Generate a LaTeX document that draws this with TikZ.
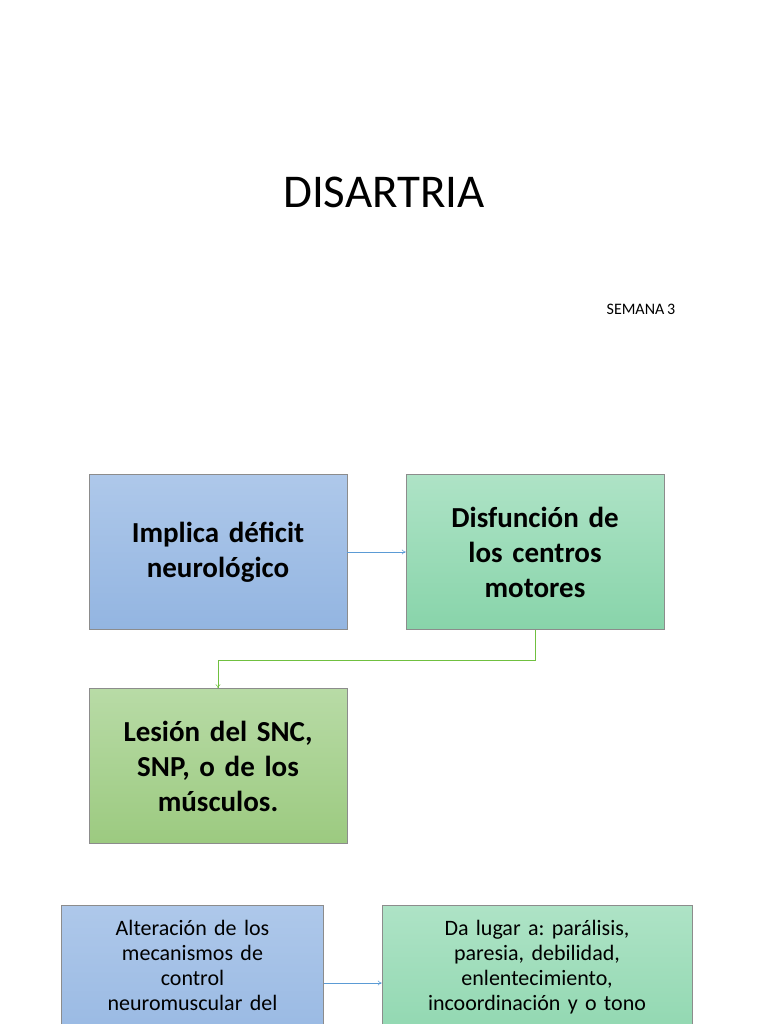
\documentclass[tikz,border=0pt]{standalone}
\usepackage{fontspec}
\setmainfont{Carlito}[WordSpace={0.8,0,0}]
\frenchspacing
\usetikzlibrary{arrows.meta,positioning}
\definecolor{bluetop}{HTML}{AEC8EA}
\definecolor{bluebot}{HTML}{93B5E1}
\definecolor{tealtop}{HTML}{AEE3C6}
\definecolor{tealbot}{HTML}{88D4AA}
\definecolor{greentop}{HTML}{B8DBA6}
\definecolor{greenbot}{HTML}{9CCA80}
\definecolor{linkblue}{HTML}{5B9BD5}
\definecolor{linkgreen}{HTML}{70C040}
\tikzset{
    box/.style = {draw=black!45, rectangle, line width=0.5pt,
        minimum height=155pt, minimum width=258pt,
        align=center, text width=250pt},
    bluebox/.style = {box, top color=bluetop, bottom color=bluebot},
    tealbox/.style = {box, top color=tealtop, bottom color=tealbot},
    greenbox/.style = {box, top color=greentop, bottom color=greenbot},
    big/.style = {font=\fontsize{29}{35}\selectfont\bfseries},
    small/.style = {font=\fontsize{22}{25}\selectfont},
    link/.style = {draw=linkblue, line width=0.5pt, -{To[length=4pt,width=5pt]}}
}
\begin{document}
\begin{tikzpicture}[x=1pt,y=-1pt]
\useasboundingbox (0,0) rectangle (768,1024);
\clip (0,0) rectangle (768,1024);
\node (title) at (384,192) {\fontsize{47}{56}\selectfont DISARTRIA};
\node (week) at (641,309) {\fontsize{16}{19}\selectfont SEMANA 3};
\node[bluebox, big] (implica) at (218,552) {Implica déficit\\neurológico};
\node[tealbox, big] (disfuncion) at (535,552) {Disfunción de\\los centros\\motores};
\node[greenbox, big] (lesion) at (218,766) {Lesión del SNC,\\SNP, o de los\\músculos.};
% boxes cut by the page edge
\node[bluebox, small, minimum width=261pt, minimum height=170pt, anchor=north, text width=255pt] (alteracion) at (192.5,905)
  {Alteración de los\\mecanismos de\\control\\neuromuscular del\\\phantom{x}\\\phantom{x}};
\node[tealbox, small, minimum width=310pt, minimum height=170pt, anchor=north, text width=300pt] (lugar) at (537,905)
  {Da lugar a: parálisis,\\paresia, debilidad,\\enlentecimiento,\\incoordinación y o tono\\\phantom{x}\\\phantom{x}};
\draw[link] (implica) -- (disfuncion);
\draw[link, draw=linkgreen] (disfuncion.south) -- ++(0,30) -| (lesion.north);
\draw[link] (alteracion.east |- 0,983) -- (lugar.west |- 0,983);
\end{tikzpicture}
\end{document}
